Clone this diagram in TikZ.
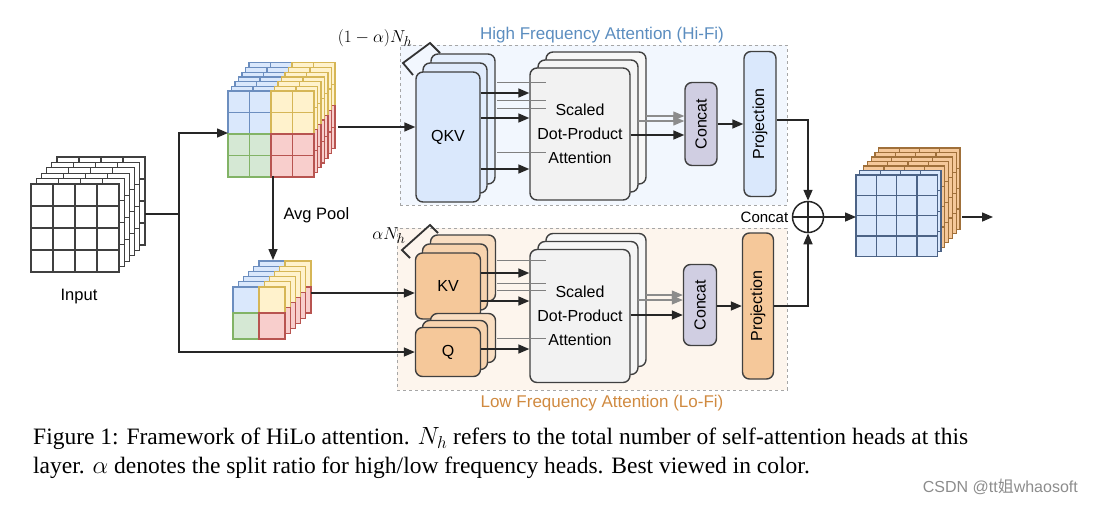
\documentclass[tikz,border=0pt]{standalone}
\usepackage{fontspec}
\setmainfont{Liberation Serif}
\newfontfamily\dsf{Liberation Sans}
\newfontfamily\cjk{Noto Sans CJK SC}
\usetikzlibrary{arrows.meta}
\definecolor{qb}{HTML}{DAE8FC}\definecolor{qbd}{HTML}{6C8EBF}
\definecolor{qy}{HTML}{FFF2CC}\definecolor{qyd}{HTML}{D6B656}
\definecolor{qg}{HTML}{D5E8D4}\definecolor{qgd}{HTML}{82B366}
\definecolor{qr}{HTML}{F8CECC}\definecolor{qrd}{HTML}{B85450}
\definecolor{qo}{HTML}{F5C89A}\definecolor{qod}{HTML}{A0703A}
\definecolor{qp}{HTML}{D0CEE2}\definecolor{qpd}{HTML}{56517E}
\definecolor{qgr}{HTML}{F2F2F2}
\definecolor{hititle}{HTML}{5B8DBF}\definecolor{lotitle}{HTML}{D08A40}
\newcommand\cellcol[2]{%
 \ifcase#1 \colorlet{cf}{white}\colorlet{cd}{black!75}%
 \or \ifcase#2 \colorlet{cf}{qb}\colorlet{cd}{qbd}\or \colorlet{cf}{qy}\colorlet{cd}{qyd}\or \colorlet{cf}{qg}\colorlet{cd}{qgd}\or \colorlet{cf}{qr}\colorlet{cd}{qrd}\fi
 \or \colorlet{cf}{qb}\colorlet{cd}{qbd!70!black}%
 \or \colorlet{cf}{qo}\colorlet{cd}{qod}\fi}
% x0 y0 cell n layers dx dy frontmode backmode
\newcommand\mycube[9]{%
 \foreach \k in {#5,...,0}{%
  \pgfmathsetmacro\xx{#1+\k*#6}\pgfmathsetmacro\yy{#2-\k*#7}%
  \ifnum\k>1 \def\md{#9}\else\def\md{#8}\fi
  \foreach \i in {1,...,#4}{\foreach \j in {1,...,#4}{%
    \pgfmathtruncatemacro\qq{(\i>#4/2)+2*(\j>#4/2)}%
    \cellcol{\md}{\qq}%
    \filldraw[fill=cf,draw=cd,line width=1.2pt] ({\xx+(\i-1)*#3},{\yy+(\j-1)*#3}) rectangle ++(#3,#3);
  }}%
 }}
\tikzset{
 arr/.style={-{Triangle[length=11pt,width=9pt]},line width=1.5pt,black!85},
 garr/.style={-{Triangle[length=11pt,width=9pt]},line width=1.1pt,black!45},
 ln/.style={line width=1pt,black!50},
 box/.style={draw=black!75,line width=1.4pt,rounded corners=7pt,font=\dsf\fontsize{16}{19}\selectfont,align=center,inner sep=0pt},
 bq/.style={box,fill=qb},
 bo/.style={box,fill=qo},
 bg/.style={box,fill=qgr},
 bp/.style={box,fill=qp},
 lab/.style={font=\dsf\fontsize{16.5}{19}\selectfont},
}
\begin{document}
\begin{tikzpicture}[x=1pt,y=-1pt]
\useasboundingbox (0,0) rectangle (1094,504);
% frames
\node[draw=black!35,dashed,line width=1pt,fill=qb!35,minimum width=387,minimum height=160,inner sep=0pt] (hibox) at (593.5,125) {};
\node[draw=black!35,dashed,line width=1pt,fill=qo!18,minimum width=390,minimum height=162,inner sep=0pt] (lobox) at (592,309) {};
\node[font=\dsf\fontsize{17}{19}\selectfont,text=hititle] (hit) at (602,35) {High Frequency Attention (Hi-Fi)};
\node[font=\dsf\fontsize{17}{19}\selectfont,text=lotitle] (lot) at (602,403) {Low Frequency Attention (Lo-Fi)};
% cubes
\mycube{31}{184}{22}{4}{5}{5.2}{5.4}{0}{0}
\node[lab] (inl) at (79,297) {Input};
\mycube{228}{91}{21.5}{4}{6}{3.5}{4.7}{1}{1}
\mycube{233}{287}{26}{2}{5}{5.2}{5.2}{1}{1}
\mycube{856}{175}{20.3}{4}{6}{3.8}{4.5}{2}{3}
% hi branch boxes
\node[bq,minimum width=64,minimum height=130,fill=qb!70] at (463,119) {};
\node[bq,minimum width=64,minimum height=130,fill=qb!85] at (455,128) {};
\node[bq,minimum width=64,minimum height=130] (qkv) at (448,137) {QKV};
\node[bg,minimum width=100,minimum height=132,fill=qgr!60] at (596,118) {};
\node[bg,minimum width=100,minimum height=132,fill=qgr!80] at (588,126) {};
\node[bg,minimum width=100,minimum height=132] (sh) at (580,134) {Scaled\\[5pt]Dot-Product\\[5pt]Attention};
\node[bp,minimum width=32,minimum height=83] (ch) at (701,124) {\rotatebox{90}{Concat}};
\node[bq,minimum width=32,minimum height=145] (ph) at (760,124) {\rotatebox{90}{Projection}};
% lo branch boxes
\node[bo,minimum width=65,minimum height=66,fill=qo!60] at (463,268) {};
\node[bo,minimum width=65,minimum height=66,fill=qo!80] at (455,277) {};
\node[bo,minimum width=65,minimum height=66] (kv) at (448,286) {KV};
\node[bo,minimum width=65,minimum height=49,fill=qo!60] at (463,338) {};
\node[bo,minimum width=65,minimum height=49,fill=qo!80] at (455,345) {};
\node[bo,minimum width=65,minimum height=49] (q) at (448,352) {Q};
\node[bg,minimum width=100,minimum height=133,fill=qgr!60] at (596,300) {};
\node[bg,minimum width=100,minimum height=133,fill=qgr!80] at (588,308) {};
\node[bg,minimum width=100,minimum height=133] (sl) at (580,316) {Scaled\\[5pt]Dot-Product\\[5pt]Attention};
\node[bp,minimum width=33,minimum height=81] (cl) at (700,305) {\rotatebox{90}{Concat}};
\node[bo,minimum width=31,minimum height=146] (pl) at (758,306) {\rotatebox{90}{Projection}};
% brackets and head labels
\draw[line width=1.8pt,black!80] (413,75) -- (403,63) -- (430,43) -- (440,53);
\node[font=\fontsize{19}{21}\selectfont] (hh) at (375,38) {$(1-\alpha)N_h$};
\draw[line width=1.8pt,black!80] (410,258) -- (402,250) -- (430,225) -- (438,233);
\node[font=\fontsize{19}{21}\selectfont] (lh) at (389,236) {$\alpha N_h$};
% plus
\node[draw=black!85,line width=1.5pt,circle,minimum size=31,inner sep=0pt] (plus) at (808,217) {};
\draw[line width=1.5pt,black!85] (plus.north) -- (plus.south) (plus.west) -- (plus.east);
\node[font=\dsf\fontsize{15}{17}\selectfont,anchor=east] (cc) at (plus.west) {Concat};
% connectors
\coordinate (inr) at (145,214);
\coordinate (split) at (179,214);
\coordinate (tcl) at (228,133);
\coordinate (tcr) at (338,127);
\coordinate (tcb) at (273,176);
\coordinate (sct) at (273,260);
\coordinate (scr) at (311,293);
\coordinate (ocl) at (856,217);
\coordinate (ocr) at (962,217);
\coordinate (oend) at (993,217);
\draw[line width=1.5pt,black!85] (inr) -- (split);
\draw[arr] (split) |- (tcl);
\draw[arr] (split) |- (q.west);
\draw[arr] (tcr) -- (tcr -| qkv.west);
\draw[arr] (tcb) -- (sct);
\node[lab,anchor=west] (ap) at (280,215) {Avg Pool};
\draw[arr] (scr) -- (scr -| kv.west);
% hi qkv -> sdpa
\foreach \yy in {82,100,108,152}{\draw[ln] (497,\yy) -- (546,\yy);}
\foreach \yy in {93,118,169}{\draw[arr] (qkv.east |- 0,\yy) -- (sh.west |- 0,\yy);}
% lo
\foreach \yy in {260,283,290,338}{\draw[ln] (497,\yy) -- (546,\yy);}
\foreach \yy in {273,301}{\draw[arr] (kv.east |- 0,\yy) -- (sl.west |- 0,\yy);}
\draw[arr] (q.east |- 0,349) -- (sl.west |- 0,349);
% sdpa -> concat
\draw[garr] (646,116) -- (ch.west |- 0,116);
\draw[garr] (638,121) -- (ch.west |- 0,121);
\draw[arr] (sh.east |- 0,135) -- (ch.west |- 0,135);
\draw[garr] (646,295) -- (cl.west |- 0,295);
\draw[garr] (638,300) -- (cl.west |- 0,300);
\draw[arr] (sl.east |- 0,315) -- (cl.west |- 0,315);
\draw[arr] (ch.east) -- (ch.east -| ph.west);
\draw[arr] (cl.east |- 0,306) -- (pl.west |- 0,306);
\draw[arr] (ph.east |- 0,120) -| (plus.north);
\draw[arr] (pl.east) -| (plus.south);
\draw[arr] (plus.east) -- (ocl);
\draw[arr] (ocr) -- (oend);
% caption
\node[anchor=west,font=\fontsize{23.5}{26}\selectfont,inner sep=0pt] (cap1) at (33,439) {Figure 1: Framework of HiLo attention. $N_h$ refers to the total number of self-attention heads at this};
\node[anchor=west,font=\fontsize{23.5}{26}\selectfont,inner sep=0pt] (cap2) at (33,468) {layer. $\alpha$ denotes the split ratio for high/low frequency heads. Best viewed in color.};
\node[anchor=east,font=\dsf\fontsize{16}{18}\selectfont,text=black!45,inner sep=0pt] (wm) at (1078,487) {CSDN @tt{\cjk 姐}whaosoft};
\end{tikzpicture}
\end{document}
